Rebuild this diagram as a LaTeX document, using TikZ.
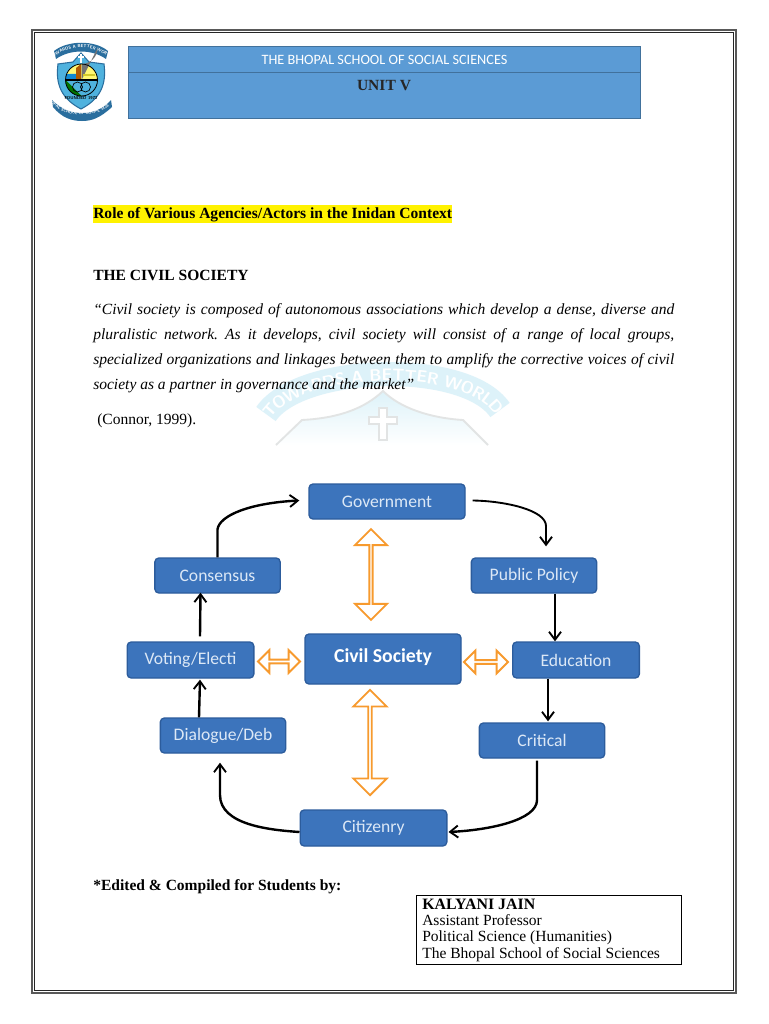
\documentclass[tikz,border=0pt]{standalone}
\usepackage{fontspec}
\setmainfont{Liberation Serif}
\newfontfamily\boxfont{Carlito}
\usetikzlibrary{arrows.meta,calc,shapes.arrows,decorations.text}
\definecolor{hdr}{HTML}{5B9BD5}
\definecolor{hdredge}{HTML}{41719C}
\definecolor{boxfill}{HTML}{3C74BC}
\definecolor{boxedge}{HTML}{2C5C9C}
\definecolor{boxtext}{HTML}{DCE8F6}
\definecolor{orangearrow}{HTML}{F79A2E}
\definecolor{wmblue}{HTML}{DDF2F9}
\definecolor{wmgray}{HTML}{E2E4E4}
\definecolor{ribbon}{HTML}{2A6E9E}
\definecolor{shield}{HTML}{4FB2DE}
\tikzset{
  bluebox/.style={draw=boxedge,fill=boxfill,line width=1pt,rounded corners=3pt,inner sep=0pt,
    text=boxtext,font=\boxfont\fontsize{13.2}{15}\selectfont},
  conn/.style={draw=black,line width=1.8pt,-{Straight Barb[length=6pt,width=9pt,line width=1.4pt]}},
  twoway/.style={shape=double arrow,draw=orangearrow,line width=1.4pt,fill=white,inner sep=0pt,
    double arrow head extend=6pt,double arrow head indent=0pt},
  bodytext/.style={anchor=west,inner sep=0pt,font=\fontsize{11.65}{14}\selectfont},
  boldtext/.style={bodytext,font=\fontsize{11.65}{14}\selectfont\bfseries},
}
\frenchspacing
\begin{document}
\begin{tikzpicture}[x=0.75pt,y=-0.75pt]
\useasboundingbox (0,0) rectangle (768,1024);
\fill[white] (0,0) rectangle (768,1024);
% page border
\draw[draw=black!65,line width=1.3pt] (32,30) rectangle (736,993);
\draw[draw=black!85,line width=0.6pt] (34.8,32.8) rectangle (733.2,990.2);
% watermark
\draw[wmblue,line width=18pt,postaction={decorate,decoration={text along path,text align=center,raise=-5pt,
  text={|\sffamily\bfseries\fontsize{12.5}{14}\selectfont\color{white}|TOWARDS A BETTER WORLD}}}]
  (266,414) .. controls (300,364) and (465,359) .. (500,410);
\shade[top color=wmblue,bottom color=white] (276,445) -- (302,420) .. controls (340,418) and (365,408) .. (383,391) .. controls (400,408) and (430,418) .. (463,420) -- (488,445) -- cycle;
\draw[wmgray,line width=1.4pt] (276,445) -- (302,420) .. controls (340,418) and (365,408) .. (383,391) .. controls (400,408) and (430,418) .. (463,420) -- (488,445);
\draw[wmgray,line width=1.4pt,fill=white] (379,408) -- (387,408) -- (387,417) -- (397,417) -- (397,424) -- (387,424) -- (387,440) -- (379,440) -- (379,424) -- (369,424) -- (369,417) -- (379,417) -- cycle;
% logo
\fill[ribbon] (54,51) .. controls (68,40) and (95,40) .. (108,51) -- (106,59) .. controls (92,49) and (70,49) .. (56,59) -- cycle;
\path[postaction={decorate,decoration={text along path,text align=center,
  text={|\sffamily\bfseries\fontsize{3.2}{4}\selectfont\color{white}|TOWARDS A BETTER WORLD}}}]
  (56,55.5) .. controls (70,45) and (92,45) .. (106,55.5);
\fill[ribbon] (52,100) .. controls (62,110) and (72,113) .. (82,113) .. controls (92,113) and (102,110) .. (111,100) -- (112,107) .. controls (100,118) and (92,121) .. (82,121) .. controls (72,121) and (62,118) .. (53,107) -- cycle;
\path[postaction={decorate,decoration={text along path,text align=center,
  text={|\sffamily\bfseries\fontsize{3}{4}\selectfont\color{white}|BHOPAL SCHOOL OF SOCIAL SCIENCES}}}]
  (54,105.5) .. controls (68,118) and (95,118) .. (110,105.5);
\draw[draw=ribbon,fill=shield,line width=0.8pt] (81,53) -- (89,62) -- (104,64) .. controls (106,80) and (104,97) .. (81,109) .. controls (58,97) and (56,80) .. (58,64) -- (73,62) -- cycle;
\fill[yellow!55!white] (65.5,80) arc[start angle=180,end angle=360,radius=16] -- cycle;
\fill[green!45!black] (65.5,80) arc[start angle=180,end angle=90,radius=16] -- cycle;
\fill[cyan!70!blue] (65.5,80) -- (66,74) -- (78,74) -- (78,80) -- cycle;
\fill[orange!70!black] (76,80) -- (76,68) -- (81,64) -- (81,80) -- cycle;
\fill[black!55] (81.5,80) -- (81.5,64) arc[start angle=90,end angle=0,radius=16] -- cycle;
\fill[yellow!80!black] (83,74) rectangle (95,76.5);
\draw[black,line width=0.6pt] (81.5,80) circle[radius=16];
\draw[black,line width=0.8pt] (65.5,80) -- (97.5,80);
\draw[black,line width=0.5pt] (77.5,87) circle[radius=5] (85.5,87) circle[radius=5];
\draw[white,line width=1.1pt] (81,54) -- (81,63) (78,57) -- (84,57);
\node[inner sep=0pt,font=\sffamily\bfseries\fontsize{3.2}{4}\selectfont,text=black] (founded) at (81,98) {FOUNDED 1972};
% header
\node[draw=hdredge,fill=hdr,line width=0.8pt,minimum width=384pt,minimum height=19.5pt,inner sep=0pt,anchor=north west,text=white,font=\boxfont\fontsize{10.7}{12}\selectfont] (hdra) at (128,46) {\raisebox{-2.2pt}{THE BHOPAL SCHOOL OF SOCIAL SCIENCES}};
\node[draw=hdredge,fill=hdr,line width=0.8pt,minimum width=384pt,minimum height=34.5pt,inner sep=0pt,anchor=north west] (hdrb) at (128,72) {};
\node[inner sep=0pt,font=\fontsize{11.65}{14}\selectfont\bfseries,text=black!85] (unit) at (384,86) {UNIT V};
% text
\fill[yellow] (93,205) rectangle (452,223);
\node[boldtext] (role) at (93,215) {Role of Various Agencies/Actors in the Inidan Context};
\node[boldtext] (civil) at (93,275) {THE CIVIL SOCIETY};
\node[anchor=north west,inner sep=0pt,text width=435.75pt,align=justify,font=\fontsize{11.65}{18.75}\selectfont\itshape] (quote) at (93,303)
 {``Civil society is composed of autonomous associations which develop a dense, diverse and\linebreak
  pluralistic network. As it develops, civil society will consist of a range of local groups,\linebreak
  specialized organizations and linkages between them to amplify the corrective voices of civil\linebreak
  society as a partner in governance and the market''};
\node[bodytext] (connor) at (97,421) {(Connor, 1999).};
% diagram
\node[bluebox,minimum width=117pt,minimum height=26.25pt] (gov) at (387,501.5) {Government};
\node[bluebox,minimum width=94pt,minimum height=26.25pt] (cons) at (217.5,575.5) {Consensus};
\node[bluebox,minimum width=95pt,minimum height=27pt] (vote) at (190.5,660) {Voting/Electi};
\node[bluebox,minimum width=117pt,minimum height=37.5pt,font=\boxfont\bfseries\fontsize{14.8}{16}\selectfont,text=white] (cs) at (383,659) {\raisebox{5pt}{Civil Society}};
\node[bluebox,minimum width=94pt,minimum height=26.25pt] (pub) at (534,575.5) {Public Policy};
\node[bluebox,minimum width=95pt,minimum height=27pt] (edu) at (576,660) {Education};
\node[bluebox,minimum width=94pt,minimum height=26.25pt] (crit) at (542,740.5) {Critical};
\node[bluebox,minimum width=94pt,minimum height=26.25pt] (dial) at (223,735.5) {Dialogue/Deb};
\node[bluebox,minimum width=110pt,minimum height=27pt] (citi) at (373.5,828) {Citizenry};
\node[twoway,shape border rotate=90,minimum height=68pt,minimum width=24pt] (dblt) at (371,574.5) {};
\node[twoway,shape border rotate=90,minimum height=79pt,minimum width=25pt] (dblb) at (370,742.5) {};
\node[twoway,minimum height=31.5pt,minimum width=17pt,double arrow head extend=3.5pt] (dbll) at (279,661.5) {};
\node[twoway,minimum height=33pt,minimum width=17pt,double arrow head extend=3.5pt] (dblr) at (486,662) {};
\draw[conn] (cons.north) -- ++(0,-28) .. controls +(2,-14) and (250,503) .. ($(gov.west)+(-9,-1)$);
\draw[conn,line width=1.4pt] ($(gov.east)+(7,-1)$) .. controls (505,501) and (546,510) .. (546,526) -- ($(pub.north)+(12,-11)$);
\draw[conn] ($(pub.south)+(21,0)$) -- ($(edu.north)+(-21,0)$);
\draw[conn] ($(edu.south)+(-28,0)$) -- ($(crit.north)+(6,-1)$);
\draw[conn] ($(crit.south)+(-5,2)$) -- (537,800) .. controls (537,820) and (490,830) .. ($(citi.east)+(1,4)$);
\draw[conn] ($(citi.west)+(0,4)$) .. controls (270,830) and (220,825) .. (220,795) -- ($(dial.south)+(-3,9)$);
\draw[conn] ($(dial.north)+(-24,0)$) -- ($(vote.south)+(9.5,1)$);
\draw[conn] ($(vote.north)+(9.5,-5)$) -- ($(cons.south)+(-17,-1)$);
% footer
\node[boldtext] (edited) at (93,887) {*Edited \& Compiled for Students by:};
\node[draw=black,line width=0.8pt,minimum width=198.75pt,minimum height=51.75pt,anchor=north west,inner sep=0pt] (author) at (416,895) {};
\node[boldtext,text=black,font=\fontsize{11.9}{14}\selectfont\bfseries] (aname) at (422,904) {KALYANI JAIN};
\node[bodytext] (a1) at (422,920.5) {Assistant Professor};
\node[bodytext] (a2) at (422,938) {Political Science (Humanities)};
\node[bodytext] (a3) at (422,954.5) {The Bhopal School of Social Sciences};
\end{tikzpicture}
\end{document}
